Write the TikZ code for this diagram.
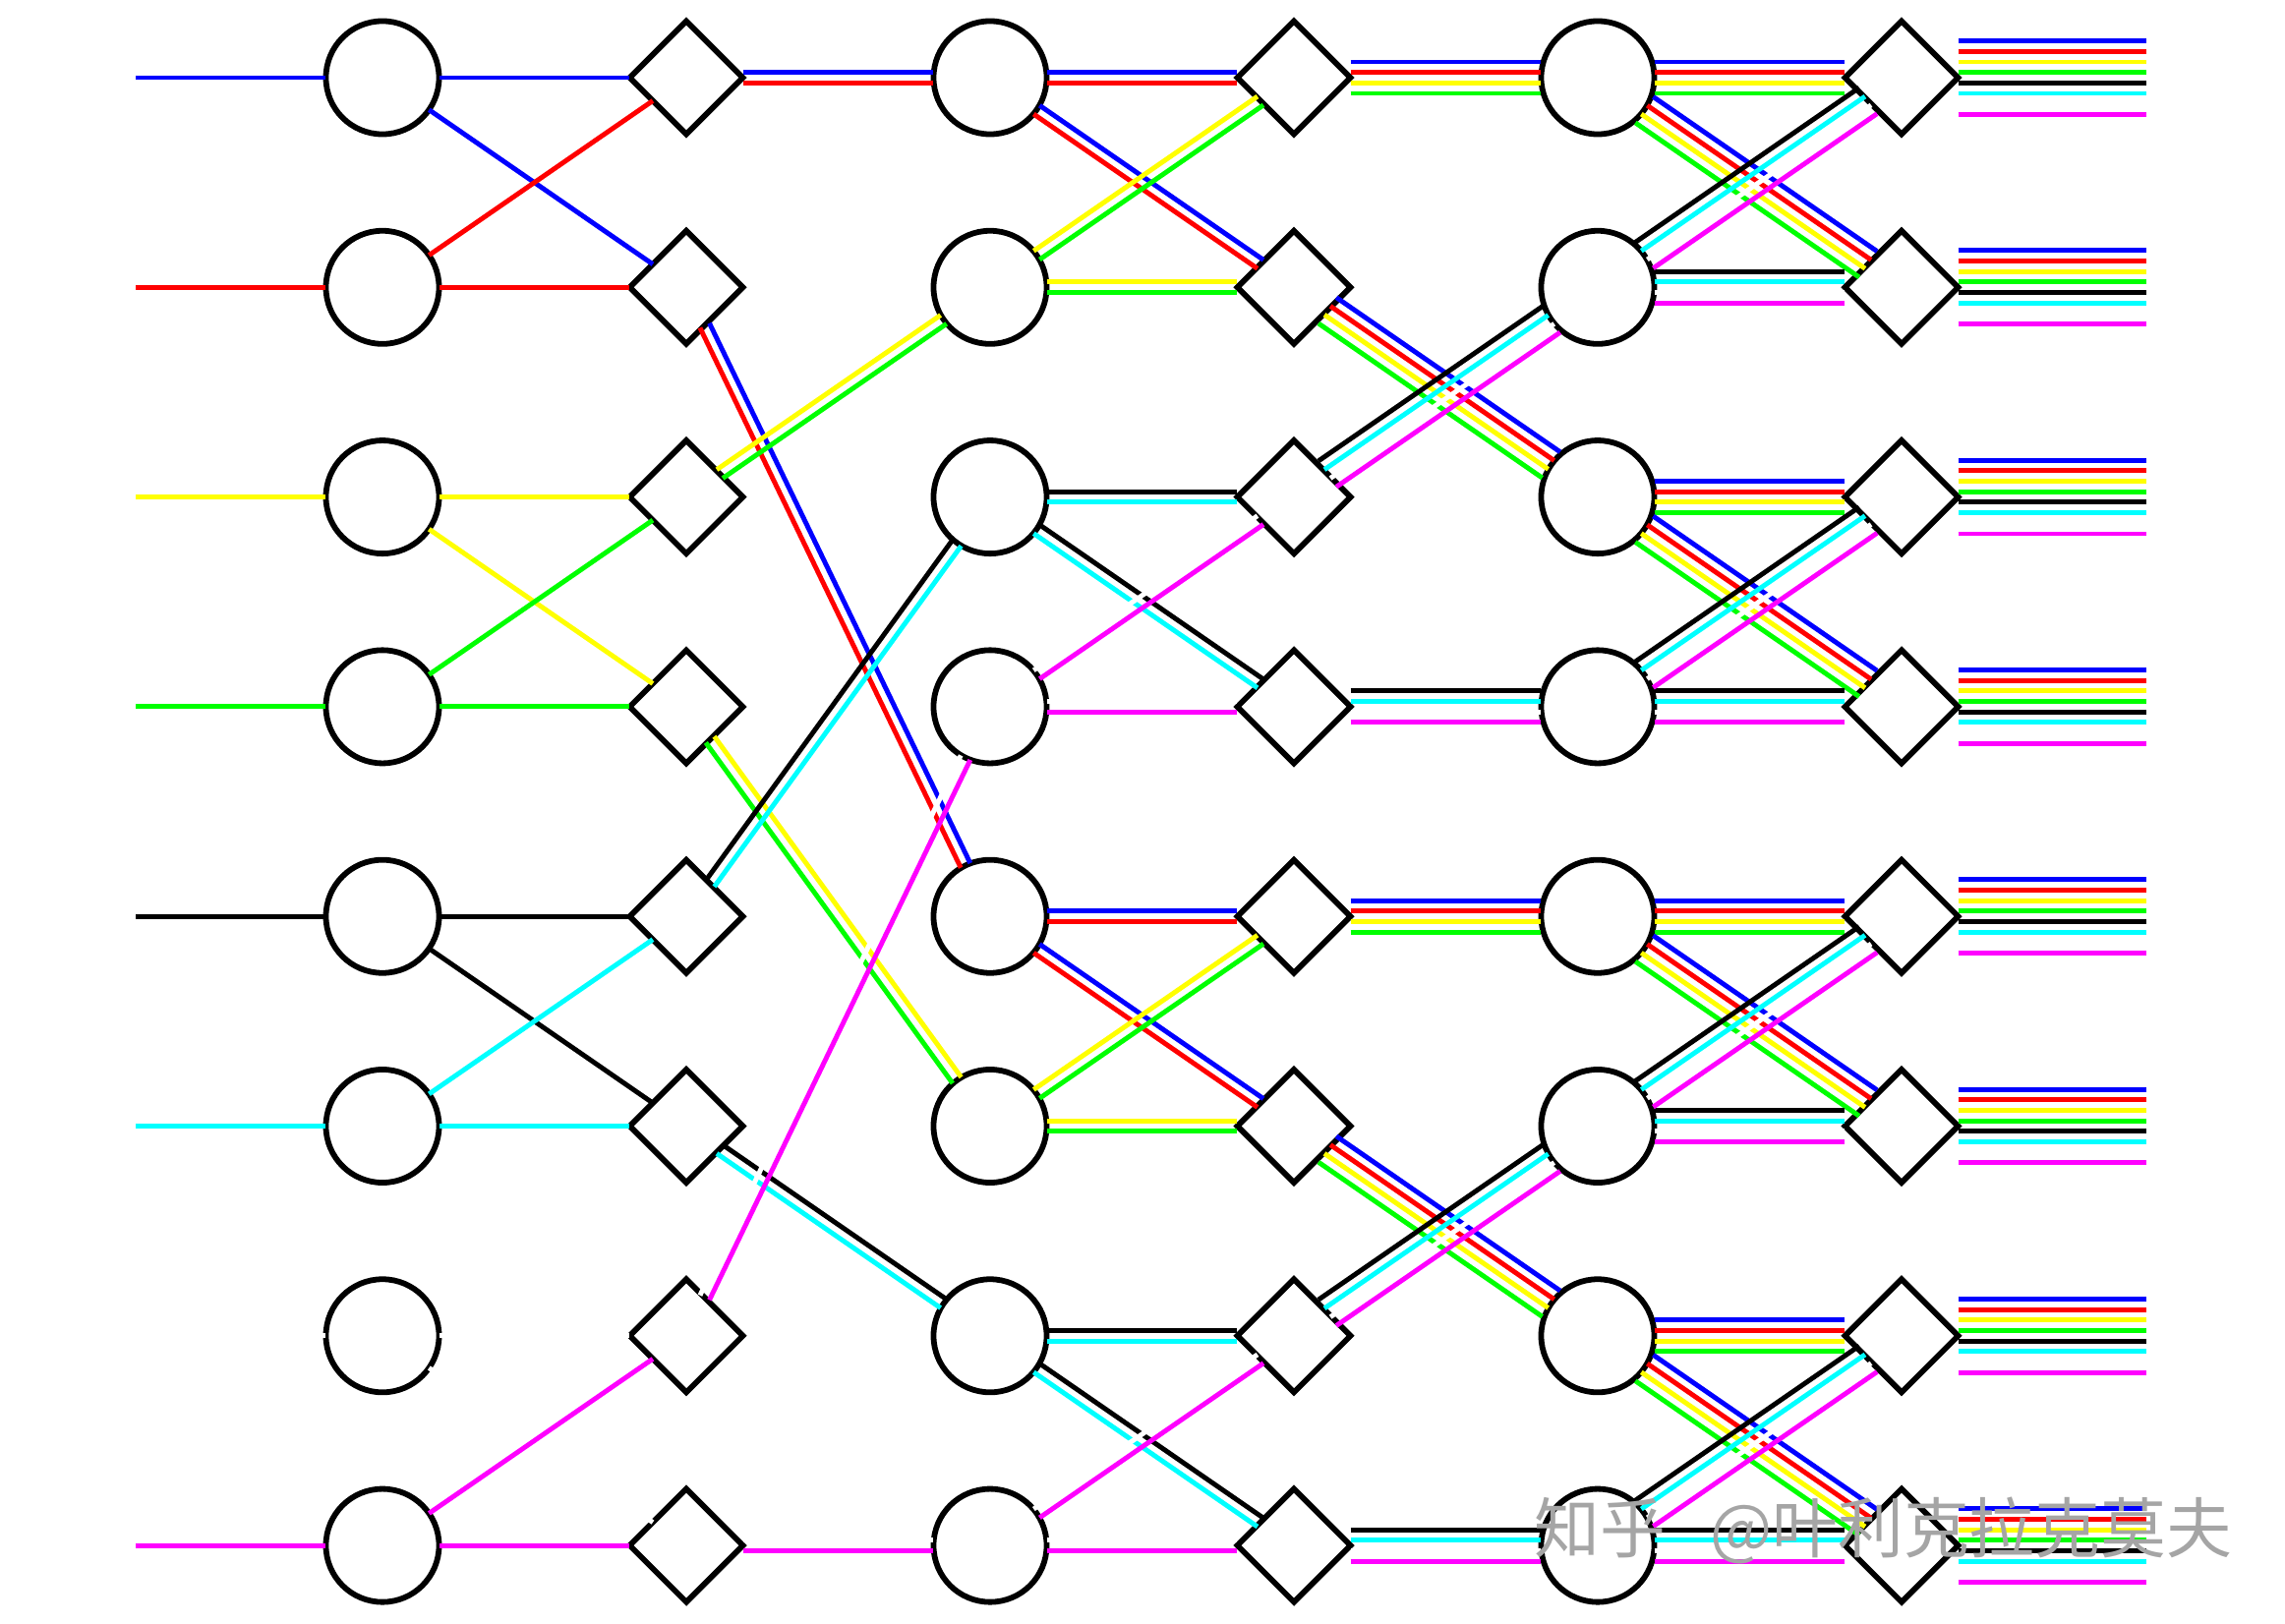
\documentclass[tikz,border=0pt]{standalone}
\usepackage{fontspec}
\newfontfamily\cjk{Noto Sans CJK SC}
\usetikzlibrary{calc}
\usetikzlibrary{shapes.geometric}

\definecolor{tone0}{RGB}{0,0,255}
\definecolor{tone1}{RGB}{255,0,0}
\definecolor{tone2}{RGB}{255,255,0}
\definecolor{tone3}{RGB}{0,255,0}
\definecolor{tone4}{RGB}{0,0,0}
\definecolor{tone5}{RGB}{0,255,255}
\definecolor{tone6}{RGB}{255,255,255}
\definecolor{tone7}{RGB}{255,0,255}
\definecolor{markgray}{RGB}{165,165,165}

\tikzset{sender/.style={draw, circle, line width=1.65pt, minimum size=1.15cm, inner sep=0pt, outer sep=0pt},
         combiner/.style={draw, diamond, aspect=1, line width=1.65pt, minimum size=1.15cm, inner sep=0pt, outer sep=0pt},
         wire/.style={line width=1.4pt}}

% #1 from, #2 to, #3 lines in the bundle, #4 first tone
\newcommand{\bundle}[4]{%
  \path (#1) -- (#2) coordinate[pos=0] (u) coordinate[pos=1] (v);
  \foreach \k in {1,...,#3} {
    \pgfmathsetmacro{\gap}{((#3+1)/2-\k)*0.1067}
    \pgfmathtruncatemacro{\tone}{#4+\k-1}
    \draw[wire, tone\tone] ($(u)!\gap cm!90:(v)$) -- ($(v)!\gap cm!-90:(u)$);
  }%
}

\begin{document}
\begin{tikzpicture}[x=0.01cm, y=-0.01cm]
    \path[use as bounding box] (0,0) rectangle (2324,1652);

    \foreach \r in {0,...,7} {
      \coordinate (in\r) at (138, 79+213.3*\r);
      \node[sender]   at (389,  79+213.3*\r) (c1-\r) {};
      \node[combiner] at (698,  79+213.3*\r) (d1-\r) {};
      \node[sender]   at (1007, 79+213.3*\r) (c2-\r) {};
      \node[combiner] at (1316, 79+213.3*\r) (d2-\r) {};
      \node[sender]   at (1625, 79+213.3*\r) (c3-\r) {};
      \node[combiner] at (1934, 79+213.3*\r) (d3-\r) {};
      \coordinate (out\r) at (2183, 79+213.3*\r);
    }

    % inputs
    \foreach \r in {0,...,7} {
      \bundle{in\r}{c1-\r}{1}{\r}
    }
    % step 1
    \foreach \r in {0,...,7} {
      \pgfmathtruncatemacro{\mate}{\r+1-2*mod(\r,2)}
      \bundle{c1-\r}{d1-\r}{1}{\r}
      \bundle{c1-\r}{d1-\mate}{1}{\r}
    }
    \foreach \r in {0,...,7} {
      \pgfmathtruncatemacro{\dst}{4*mod(\r,2)+floor(\r/2)}
      \pgfmathtruncatemacro{\fst}{\r-mod(\r,2)}
      \bundle{d1-\r}{c2-\dst}{2}{\fst}
    }
    % step 2
    \foreach \r in {0,...,7} {
      \pgfmathtruncatemacro{\mate}{\r+1-2*mod(\r,2)}
      \pgfmathtruncatemacro{\fst}{2*mod(\r,4)}
      \bundle{c2-\r}{d2-\r}{2}{\fst}
      \bundle{c2-\r}{d2-\mate}{2}{\fst}
    }
    \foreach \r in {0,...,7} {
      \pgfmathtruncatemacro{\dst}{4*floor(\r/4)+2*mod(\r,2)+floor(mod(\r,4)/2)}
      \pgfmathtruncatemacro{\fst}{4*mod(floor(\r/2),2)}
      \bundle{d2-\r}{c3-\dst}{4}{\fst}
    }
    % step 3
    \foreach \r in {0,...,7} {
      \pgfmathtruncatemacro{\mate}{\r+1-2*mod(\r,2)}
      \pgfmathtruncatemacro{\fst}{4*mod(\r,2)}
      \bundle{c3-\r}{d3-\r}{4}{\fst}
      \bundle{c3-\r}{d3-\mate}{4}{\fst}
    }
    % outputs
    \foreach \r in {0,...,7} {
      \bundle{d3-\r}{out\r}{8}{0}
    }

    \node[anchor=west, inner sep=0pt, text=markgray, font=\cjk\fontsize{19}{19}\selectfont] at (1560, 1557) (mark) {知乎\hspace{0.3cm} @叶利克拉克莫夫};
\end{tikzpicture}
\end{document}
